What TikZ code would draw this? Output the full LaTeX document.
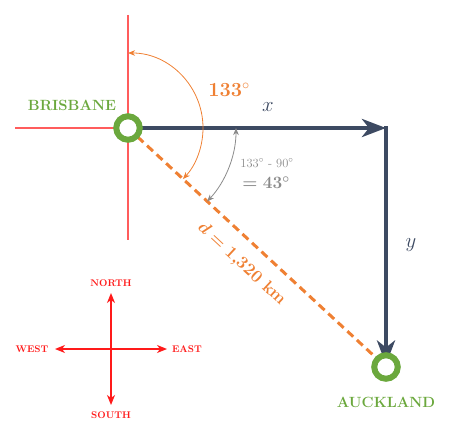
\documentclass[tikz,border=0pt]{standalone}
\usepackage{bm}
\usetikzlibrary{arrows.meta,calc}
\definecolor{cgreen}{HTML}{6BA83D}
\definecolor{corange}{HTML}{EF8033}
\definecolor{cdark}{HTML}{3D4A62}
\definecolor{cgray}{HTML}{8A8A8A}
\definecolor{cred}{HTML}{FF5C5C}
\definecolor{cred2}{HTML}{FF1A1A}
\begin{document}
\begin{tikzpicture}[x=1pt,y=-1pt,
  city/.style={circle, draw=cgreen, line width=6pt, fill=white, minimum size=23.5pt, inner sep=0pt},
  citylabel/.style={text=cgreen, font=\fontsize{14.8}{16}\selectfont\bfseries, inner sep=0pt},
  vec/.style={draw=cdark, line width=4.5pt, -{Stealth[length=24pt,width=18pt,inset=7pt]}},
  crossline/.style={draw=cred, line width=1.6pt},
  compass/.style={draw=cred2, line width=1.4pt, -{Stealth[length=10pt,width=8pt,inset=3pt]}},
  complabel/.style={text=cred2, font=\fontsize{9.7}{11}\selectfont\bfseries, inner sep=0pt},
  anglearc/.style={line width=0.8pt, {Stealth[length=7pt,width=5.5pt,inset=2pt]}-{Stealth[length=7pt,width=5.5pt,inset=2pt]}},
]
\useasboundingbox (0,0) rectangle (450,436);

% positions
\coordinate (b) at (128,128);
\coordinate (corner) at (386,128);
\coordinate (a) at (386,367);
\coordinate (crossN) at (128,15);
\coordinate (crossS) at (128,240);
\coordinate (crossW) at (15,128);

% red crosshair
\draw[crossline] (crossN) -- (crossS);
\draw[crossline] (crossW) -- (b);

% dashed distance
\draw[corange, line width=3pt, dash pattern=on 8pt off 5pt] (b) -- (a);

% vectors
\draw[vec] (b) -- (corner);
\draw[vec, line cap=rect] (corner) -- ([yshift=2.5pt]a.north);

% cities
\node[city] (bris) at (b) {};
\node[city] (auck) at (a) {};
\node[citylabel] (brislab) at (72,105) {BRISBANE};
\node[citylabel] (auclab) at (386,402) {AUCKLAND};

% angle arcs
\draw[anglearc, corange] ($(b)+(0,75pt)$) arc[start angle=90, end angle=-42.9, radius=75pt];
\draw[anglearc, cgray] ($(b)+(108pt,0)$) arc[start angle=0, end angle=-42.9, radius=108pt];

% labels
\node[text=corange, font=\fontsize{20}{22}\selectfont\bfseries] (ang) at (229,90) {133$^\circ$};
\node[text=cdark, font=\fontsize{21}{23}\selectfont] (xl) at (268,107) {$x$};
\node[text=cdark, font=\fontsize{21}{23}\selectfont] (yl) at (411,245) {$y$};
\node[text=cgray, font=\fontsize{12.5}{14}\selectfont] (diff1) at (267,163) {133$^\circ$ - 90$^\circ$};
\node[text=cgray, font=\fontsize{18.5}{20}\selectfont\bfseries] (diff2) at (266,183) {{\boldmath$=43^\circ$}};
\coordinate (mid) at ($(b)!0.5!(a)$);
\node[text=corange, font=\fontsize{17}{19}\selectfont\bfseries, rotate=-42.9] (dl) at ($(mid)!22.5pt!-90:(a)$) {{\boldmath$d=1{,}320$} km};

% compass
\coordinate (c) at (111,349);
\coordinate (cn) at (111,293);
\coordinate (cs) at (111,405);
\coordinate (cw) at (55,349);
\coordinate (ce) at (167,349);
\draw[compass] (c) -- (cn);
\draw[compass] (c) -- (cs);
\draw[compass] (c) -- (cw);
\draw[compass] (c) -- (ce);
\node[complabel] (nl) at (111,283) {NORTH};
\node[complabel] (sl) at (111,415) {SOUTH};
\node[complabel] (wl) at (32,349) {WEST};
\node[complabel] (el) at (187,349) {EAST};
\end{tikzpicture}
\end{document}
